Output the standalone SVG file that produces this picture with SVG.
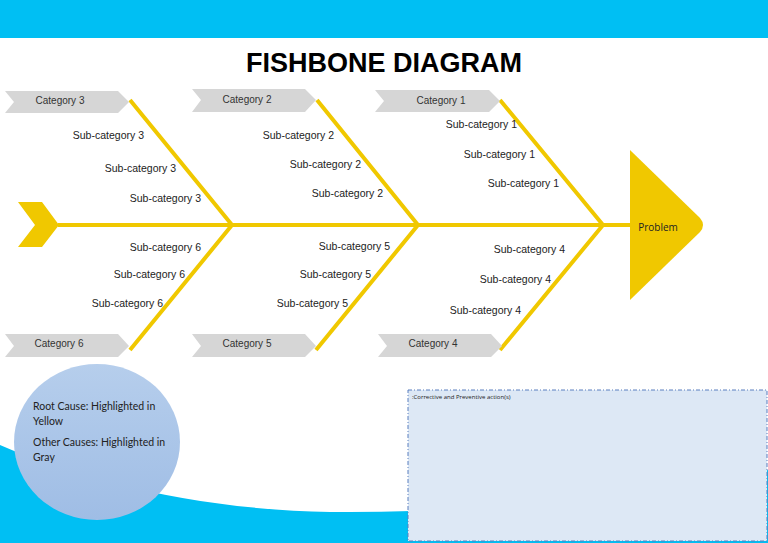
<svg xmlns="http://www.w3.org/2000/svg" width="768" height="543" viewBox="0 0 768 543">
<defs>
<style>
.t{font-family:"Liberation Sans",Arial,sans-serif;font-size:10.5px;fill:#222}
.c{font-family:"Liberation Sans",Arial,sans-serif;font-size:10px;fill:#333}
.tag{fill:#D6D6D6}
.bone{stroke:#F0C800;stroke-width:4;fill:none}
.n{font-family:"Open Sans","DejaVu Sans",sans-serif;font-size:10px;fill:#222}
</style>
<linearGradient id="g" x1="0" y1="0" x2="0" y2="1"><stop offset="0" stop-color="#B6CEEC"/><stop offset="1" stop-color="#9FBDE5"/></linearGradient>
</defs>
<rect width="768" height="543" fill="#fff"/>
<rect x="0" y="0" width="768" height="38" fill="#00BFF3"/>
<path d="M0,445 C80,480 200,510 330,512 C500,514 650,490 768,470 L768,543 L0,543 Z" fill="#00BFF3"/>
<text x="384" y="72" text-anchor="middle" font-family="Liberation Sans,Arial,sans-serif" font-weight="bold" font-size="27" fill="#000">FISHBONE DIAGRAM</text>
<g id="connectors">
<line class="bone" x1="58" y1="225" x2="630" y2="225"/>
<polyline class="bone" points="130,100 232,225 130,350"/>
<polyline class="bone" points="317,100 418,225 316,350"/>
<polyline class="bone" points="500,100 603,225 500,350"/>
</g>
<g id="tail"><polygon points="18,202 42,202 59,225 42,247 18,247 35,225" fill="#F0C800"/></g>
<g id="head"><path d="M630,150 L700,218 Q706,225 700,232 L630,300 Z" fill="#F0C800"/><text class="n" x="658" y="231" text-anchor="middle">Problem</text></g>
<g id="cat3"><polygon class="tag" points="5,91 118,91 129,102 118,113 5,113 14,102"/><text class="c" x="60" y="104" text-anchor="middle">Category 3</text></g>
<g id="cat2"><polygon class="tag" points="192,89 305,89 316,100 305,112 192,112 201,100"/><text class="c" x="247" y="103" text-anchor="middle">Category 2</text></g>
<g id="cat1"><polygon class="tag" points="375,90 489,90 500,101 489,112 375,112 384,101"/><text class="c" x="441" y="104" text-anchor="middle">Category 1</text></g>
<g id="cat6"><polygon class="tag" points="5,334 118,334 129,346 118,357 5,357 14,346"/><text class="c" x="59" y="347" text-anchor="middle">Category 6</text></g>
<g id="cat5"><polygon class="tag" points="192,334 305,334 316,346 305,357 192,357 201,346"/><text class="c" x="247" y="347" text-anchor="middle">Category 5</text></g>
<g id="cat4"><polygon class="tag" points="378,334 491,334 502,346 491,357 378,357 387,346"/><text class="c" x="433" y="347" text-anchor="middle">Category 4</text></g>
<g id="subs">
<text class="t" x="144" y="139" text-anchor="end">Sub-category 3</text>
<text class="t" x="176" y="172" text-anchor="end">Sub-category 3</text>
<text class="t" x="201" y="202" text-anchor="end">Sub-category 3</text>
<text class="t" x="201" y="251" text-anchor="end">Sub-category 6</text>
<text class="t" x="185" y="278" text-anchor="end">Sub-category 6</text>
<text class="t" x="163" y="307" text-anchor="end">Sub-category 6</text>
<text class="t" x="334" y="139" text-anchor="end">Sub-category 2</text>
<text class="t" x="361" y="168" text-anchor="end">Sub-category 2</text>
<text class="t" x="383" y="197" text-anchor="end">Sub-category 2</text>
<text class="t" x="390" y="250" text-anchor="end">Sub-category 5</text>
<text class="t" x="371" y="278" text-anchor="end">Sub-category 5</text>
<text class="t" x="348" y="307" text-anchor="end">Sub-category 5</text>
<text class="t" x="517" y="128" text-anchor="end">Sub-category 1</text>
<text class="t" x="535" y="158" text-anchor="end">Sub-category 1</text>
<text class="t" x="559" y="187" text-anchor="end">Sub-category 1</text>
<text class="t" x="565" y="253" text-anchor="end">Sub-category 4</text>
<text class="t" x="551" y="283" text-anchor="end">Sub-category 4</text>
<text class="t" x="521" y="314" text-anchor="end">Sub-category 4</text>
</g>
<g id="legend"><ellipse cx="97" cy="442" rx="83" ry="78" fill="url(#g)"/>
<text font-family="Lato,'Open Sans',sans-serif" font-size="10.5" fill="#222"><tspan x="33" y="410">Root Cause: Highlighted in</tspan><tspan x="33" y="425">Yellow</tspan><tspan x="33" y="446">Other Causes: Highlighted in</tspan><tspan x="33" y="461">Gray</tspan></text></g>
<g id="actions"><rect x="408" y="390" width="359" height="151" fill="#DDE8F5" stroke="#5B7FBF" stroke-dasharray="4,2,1,2"/>
<text x="412" y="399" font-family="'Open Sans',sans-serif" font-size="6" fill="#222">:Corrective and Preventive action(s)</text></g>
</svg>
